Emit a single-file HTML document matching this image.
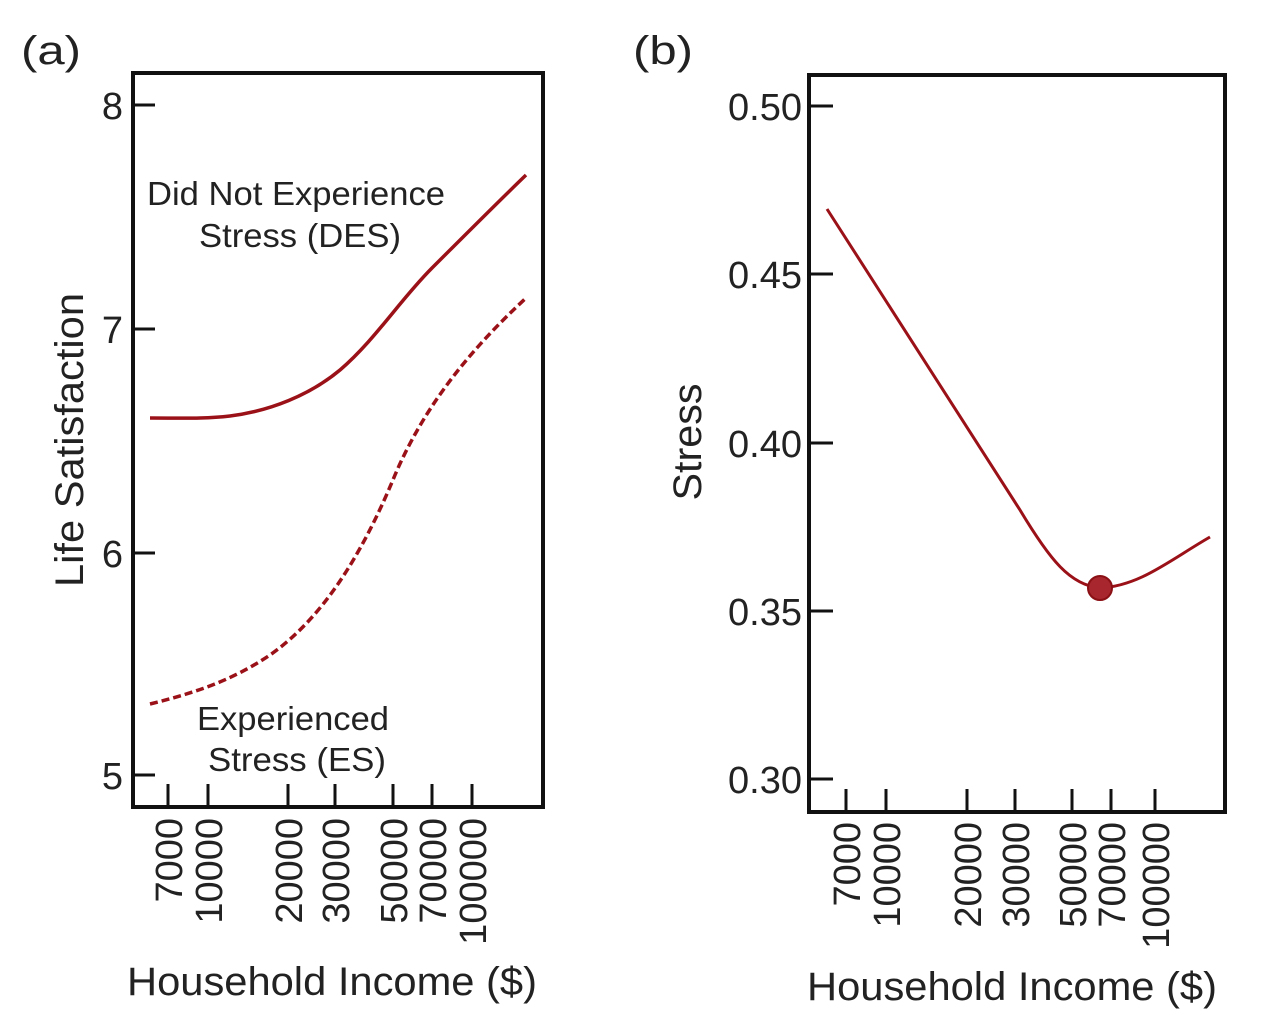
<!DOCTYPE html>
<html><head><style>body{margin:0;background:#fff}</style></head><body>
<svg width="1280" height="1031" xmlns="http://www.w3.org/2000/svg" font-family="Liberation Sans, Arial, sans-serif" fill="#222">
<rect width="1280" height="1031" fill="#fff"/>
<text x="21" y="64" font-size="40" textLength="60" lengthAdjust="spacingAndGlyphs">(a)</text>
<text x="633" y="64" font-size="40" textLength="60" lengthAdjust="spacingAndGlyphs">(b)</text>
<!-- Panel a -->
<rect x="133" y="73" width="410" height="734" fill="none" stroke="#111" stroke-width="4"/>
<g stroke="#111" stroke-width="3">
<line x1="133" y1="105" x2="155" y2="105"/><line x1="133" y1="329" x2="155" y2="329"/>
<line x1="133" y1="553" x2="155" y2="553"/><line x1="133" y1="775" x2="155" y2="775"/>
<line x1="168" y1="784" x2="168" y2="807"/><line x1="208" y1="784" x2="208" y2="807"/>
<line x1="288" y1="784" x2="288" y2="807"/><line x1="335" y1="784" x2="335" y2="807"/>
<line x1="393" y1="784" x2="393" y2="807"/><line x1="432" y1="784" x2="432" y2="807"/>
<line x1="472" y1="784" x2="472" y2="807"/>
</g>
<g font-size="38" text-anchor="end">
<text x="123" y="119">8</text><text x="123" y="343">7</text><text x="123" y="567">6</text><text x="123" y="789">5</text>
</g>
<g font-size="38" text-anchor="end">
<text transform="translate(182,818) rotate(-90)">7000</text>
<text transform="translate(222,818) rotate(-90)">10000</text>
<text transform="translate(302,818) rotate(-90)">20000</text>
<text transform="translate(349,818) rotate(-90)">30000</text>
<text transform="translate(407,818) rotate(-90)">50000</text>
<text transform="translate(446,818) rotate(-90)">70000</text>
<text transform="translate(486,818) rotate(-90)">100000</text>
</g>
<text transform="translate(83,440) rotate(-90)" font-size="40" text-anchor="middle" textLength="294" lengthAdjust="spacingAndGlyphs">Life Satisfaction</text>
<text x="332" y="995" font-size="40" text-anchor="middle" textLength="410" lengthAdjust="spacingAndGlyphs">Household Income ($)</text>
<text x="296" y="205" font-size="33" text-anchor="middle" textLength="298" lengthAdjust="spacingAndGlyphs">Did Not Experience</text>
<text x="300" y="247" font-size="33" text-anchor="middle" textLength="202" lengthAdjust="spacingAndGlyphs">Stress (DES)</text>
<text x="293" y="730" font-size="33" text-anchor="middle" textLength="192" lengthAdjust="spacingAndGlyphs">Experienced</text>
<text x="297" y="771" font-size="33" text-anchor="middle" textLength="178" lengthAdjust="spacingAndGlyphs">Stress (ES)</text>
<path d="M150,418 C180,418 205,419 230,416 C270,411 310,395 340,370 C375,340 400,300 432,268 C470,230 500,200 526,175" fill="none" stroke="#9b1118" stroke-width="3.5"/>
<path d="M150,704 C190,694 230,682 270,655 C320,620 360,560 395,475 C425,405 470,350 526,298" fill="none" stroke="#9b1118" stroke-width="3.5" stroke-dasharray="8,4"/>
<!-- Panel b -->
<rect x="809" y="75" width="416" height="737" fill="none" stroke="#111" stroke-width="4"/>
<g stroke="#111" stroke-width="3">
<line x1="809" y1="106" x2="833" y2="106"/><line x1="809" y1="274" x2="833" y2="274"/>
<line x1="809" y1="443" x2="833" y2="443"/><line x1="809" y1="611" x2="833" y2="611"/>
<line x1="809" y1="779" x2="833" y2="779"/>
<line x1="846" y1="789" x2="846" y2="812"/><line x1="886" y1="789" x2="886" y2="812"/>
<line x1="967" y1="789" x2="967" y2="812"/><line x1="1015" y1="789" x2="1015" y2="812"/>
<line x1="1072" y1="789" x2="1072" y2="812"/><line x1="1111" y1="789" x2="1111" y2="812"/>
<line x1="1155" y1="789" x2="1155" y2="812"/>
</g>
<g font-size="38" text-anchor="end">
<text x="802" y="120">0.50</text><text x="802" y="288">0.45</text><text x="802" y="457">0.40</text>
<text x="802" y="625">0.35</text><text x="802" y="793">0.30</text>
</g>
<g font-size="38" text-anchor="end">
<text transform="translate(860,822) rotate(-90)">7000</text>
<text transform="translate(900,822) rotate(-90)">10000</text>
<text transform="translate(981,822) rotate(-90)">20000</text>
<text transform="translate(1029,822) rotate(-90)">30000</text>
<text transform="translate(1086,822) rotate(-90)">50000</text>
<text transform="translate(1125,822) rotate(-90)">70000</text>
<text transform="translate(1169,822) rotate(-90)">100000</text>
</g>
<text transform="translate(701,442) rotate(-90)" font-size="40" text-anchor="middle" textLength="117" lengthAdjust="spacingAndGlyphs">Stress</text>
<text x="1012" y="1000" font-size="40" text-anchor="middle" textLength="410" lengthAdjust="spacingAndGlyphs">Household Income ($)</text>
<path d="M827,209 L1020,510 C1050,560 1070,585 1100,588 C1140,586 1170,560 1210,537" fill="none" stroke="#9b1118" stroke-width="3"/>
<circle cx="1100" cy="588" r="12" fill="#a8262d" stroke="#8a1015" stroke-width="2"/>
</svg>
</body></html>
